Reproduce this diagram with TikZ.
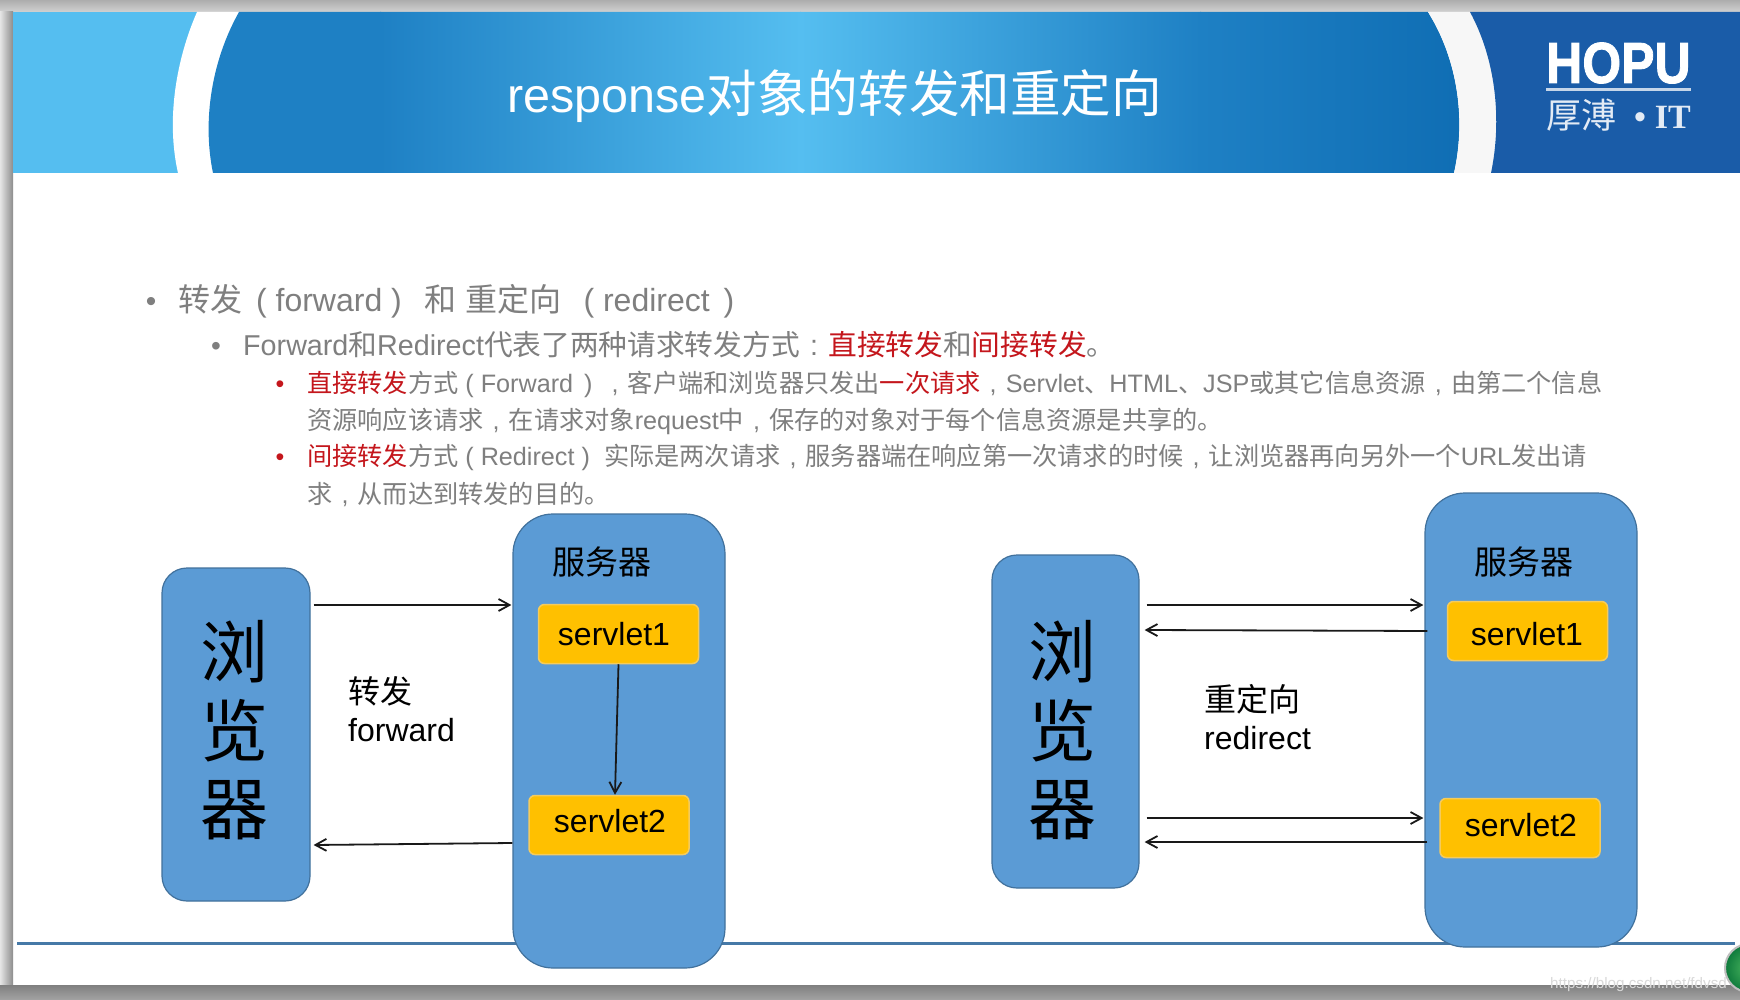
\documentclass[tikz,border=0pt]{standalone}
\usepackage{fontspec}
\setmainfont{Liberation Sans}
\newfontfamily\cjk{Noto Sans CJK SC}
\newfontfamily\logoserif{Liberation Serif}
\newfontfamily\hopufont[FakeBold=1.5]{Liberation Sans Bold}
\usetikzlibrary{calc,arrows.meta}
\newcommand{\zh}[1]{{\cjk #1}}
\newcommand{\cm}{\hbox to 1em{\hfil,\hfil}}
\newcommand{\fs}[1]{\fontsize{#1}{#1}\selectfont}
\definecolor{txgray}{HTML}{7F7F7F}
\definecolor{txred}{HTML}{C4161C}
\definecolor{boxblue}{HTML}{5B9BD5}
\definecolor{boxedge}{HTML}{41719C}
\definecolor{servfill}{HTML}{FFC000}
\definecolor{servedge}{HTML}{F5CB5C}
\definecolor{hdrl}{HTML}{55BEF0}
\definecolor{hdrd}{HTML}{0F6DB3}
\definecolor{hdrm}{HTML}{1E80C4}
\definecolor{hdrr}{HTML}{1A5CA8}
\definecolor{badgel}{HTML}{4CB860}
\definecolor{badged}{HTML}{0E7A3C}
\tikzset{
  rb/.style={draw=boxedge,line width=1.2pt,fill=boxblue,rounded corners=#1,inner sep=0pt,text=black},
  servlet/.style={draw=servedge,line width=1.5pt,fill=servfill,rounded corners=6pt,inner sep=0pt,minimum width=160pt,minimum height=59pt},
  label/.style={inner sep=0pt,anchor=base west,text=black},
  line/.style={inner sep=0pt,anchor=base west,text=txgray},
  bul/.style={inner sep=0pt,anchor=base},
  arr/.style={draw=black!90,line width=1.8pt,-{Straight Barb[length=11pt,width=12pt]}},
}
\begin{document}
\begin{tikzpicture}[x=1pt,y=-1pt]
\useasboundingbox (0,0) rectangle (1740,1000);
% frame
\fill[white] (0,0) rectangle (1740,1000);
\shade[top color=black!32,bottom color=black!18] (0,0) rectangle (1740,12);
\shade[left color=black!10,right color=black!45] (0,12) rectangle (13,985);
\shade[top color=black!50,bottom color=black!36] (0,985) rectangle (1740,1000);
% header
\fill[hdrl] (13,12) rectangle (200,173);
\fill[white] (197,12) .. controls (176,60) and (166,120) .. (178,173) -- (215,173) .. controls (202,120) and (212,60) .. (239,12) -- cycle;
\begin{scope}
\clip (239,12) .. controls (212,60) and (202,120) .. (213,173) -- (1454,173) .. controls (1466,120) and (1458,60) .. (1428,12) -- cycle;
\shade[left color=hdrm,right color=hdrm] (200,12) rectangle (381,173);
\shade[left color=hdrm,right color=hdrl] (380,12) rectangle (801,173);
\shade[left color=hdrl,right color=hdrm] (800,12) rectangle (1201,173);
\shade[left color=hdrm,right color=hdrd] (1200,12) rectangle (1470,173);
\end{scope}
\fill[white!97!black] (1428,12) .. controls (1458,60) and (1466,120) .. (1454,173) -- (1491,173) .. controls (1502,120) and (1496,60) .. (1470,12) -- cycle;
\fill[hdrr] (1470,12) .. controls (1496,60) and (1502,120) .. (1491,173) -- (1740,173) -- (1740,12) -- cycle;
\node[inner sep=0pt,anchor=base west,text=white] (title) at (507,113) {\fs{48.5}response\fs{50.6}\zh{对象的转发和重定向}};
\node[inner sep=0pt,anchor=base west,text=white] (hopu) at (1546,83) {\scalebox{1}[1.16]{\fs{50}\hopufont HOPU}};
\fill[white!75!hdrr] (1546,88) rectangle (1691,91);
\node[inner sep=0pt,anchor=base west,text=white!88!hdrr] (logocn) at (1546,129) {\fs{35}\zh{厚溥}};
\node[inner sep=0pt,anchor=base,text=white!88!hdrr] (logodot) at (1640,129) {\fs{34}•};
\node[inner sep=0pt,anchor=base east,text=white!88!hdrr] (logoit) at (1691,129) {\fs{34}\logoserif\bfseries IT};
% bottom rule
\draw[color=boxedge!80!boxblue,line width=3.5pt] (17,943.5) -- (1735,943.5);
% text
\node[bul,text=txgray] (b1) at (151,312) {\fs{30}•};
\node[line] (l1) at (178,312) {\fs{32}\zh{转发}\hspace{5pt} ( forward )\hspace{14pt} \zh{和}\hspace{0pt} \zh{重定向}\hspace{13pt} ( redirect\hspace{5pt} )};
\node[bul,text=txgray] (b2) at (216,355) {\fs{28}•};
\node[line] (l2) at (243,355) {\fs{28.7}Forward\zh{和}Redirect\zh{代表了两种请求转发方式}\hbox to 1em{\hfil:\hfil}\textcolor{txred}{\zh{直接转发}}\zh{和}\textcolor{txred}{\zh{间接转发}}\zh{。}};
\node[bul,text=txred] (b3) at (280,392.5) {\fs{25}•};
\node[line] (l3) at (307,392.5) {\fs{25.2}\textcolor{txred}{\zh{直接转发}}\zh{方式} ( Forward\hspace{4pt} )\hspace{3pt} \cm\zh{客户端和浏览器只发出}\textcolor{txred}{\zh{一次请求}}\cm Servlet\zh{、}HTML\zh{、}JSP\zh{或其它信息资源}\cm\zh{由第二个信息}};
\node[line] (l4) at (307,429) {\fs{25.2}\zh{资源响应该请求}\cm\zh{在请求对象}request\zh{中}\cm\zh{保存的对象对于每个信息资源是共享的。}};
\node[bul,text=txred] (b4) at (280,465.5) {\fs{25}•};
\node[line] (l5) at (307,465.5) {\fs{25.2}\textcolor{txred}{\zh{间接转发}}\zh{方式} ( Redirect )\hspace{7pt} \zh{实际是两次请求}\cm\zh{服务器端在响应第一次请求的时候}\cm\zh{让浏览器再向另外一个}URL\zh{发出请}};
\node[line] (l6) at (307,503.5) {\fs{25.2}\zh{求}\cm\zh{从而达到转发的目的。}};
% left diagram
\node[rb=25pt,minimum width=148pt,minimum height=333pt] (lb) at (236,734.5) {};
\node[rb=40pt,minimum width=212pt,minimum height=454pt] (ls) at (619,741) {};
\node[inner sep=0pt] (lb1) at (234.5,652) {\fs{68}\zh{浏}};
\node[inner sep=0pt] (lb2) at (234.5,731) {\fs{68}\zh{览}};
\node[inner sep=0pt] (lb3) at (234.5,810) {\fs{68}\zh{器}};
\node[inner sep=0pt] (lst) at (602,562) {\fs{33}\zh{服务器}};
\node[servlet] (ls1) at (618.5,634) {};
\node[inner sep=0pt,anchor=base] (ls1t) at (614,645) {\fs{32}servlet1};
\node[servlet] (ls2) at (609,825) {};
\node[inner sep=0pt,anchor=base] (ls2t) at (610,832) {\fs{32}servlet2};
\node[label] (ll1) at (348,703) {\fs{32}\zh{转发}};
\node[label] (ll2) at (348,741) {\fs{32}forward};
\draw[arr] ([xshift=3pt,yshift=129.5pt]lb.east) -- ([xshift=-1pt,yshift=136pt]ls.west);
\draw[arr] ([yshift=-102pt]ls.west) -- ([xshift=3pt,yshift=-110.5pt]lb.east);
\draw[arr] (ls1.south) -- ([xshift=6pt]ls2.north);
% right diagram
\node[rb=25pt,minimum width=147pt,minimum height=333pt] (rb) at (1065.5,721.5) {};
\node[rb=40pt,minimum width=212pt,minimum height=454pt] (rs) at (1531,720) {};
\node[inner sep=0pt] (rb1) at (1062,652) {\fs{68}\zh{浏}};
\node[inner sep=0pt] (rb2) at (1062,731) {\fs{68}\zh{览}};
\node[inner sep=0pt] (rb3) at (1062,810) {\fs{68}\zh{器}};
\node[inner sep=0pt] (rst) at (1524,562) {\fs{33}\zh{服务器}};
\node[servlet] (rs1) at (1527.5,631) {};
\node[inner sep=0pt,anchor=base] (rs1t) at (1527,645) {\fs{32}servlet1};
\node[servlet] (rs2) at (1520,828) {};
\node[inner sep=0pt,anchor=base] (rs2t) at (1521,836) {\fs{32}servlet2};
\node[label] (rl1) at (1204,711) {\fs{32}\zh{重定向}};
\node[label] (rl2) at (1204,749) {\fs{32}redirect};
\draw[arr] ([xshift=7pt,yshift=116.5pt]rb.east) -- ([xshift=-1pt,yshift=115pt]rs.west);
\draw[arr] ([xshift=3pt,yshift=89pt]rs.west) -- ([xshift=5pt,yshift=91.5pt]rb.east);
\draw[arr] ([xshift=7pt,yshift=-96.5pt]rb.east) -- ([xshift=-1pt,yshift=-98pt]rs.west);
\draw[arr] ([xshift=3pt,yshift=-122pt]rs.west) -- ([xshift=5pt,yshift=-120.5pt]rb.east);
% corner
\node[inner sep=0pt,anchor=base west,text=white!85!black] (wm) at (1550,988) {\fs{15.2}https://blog.csdn.net/fdvsd};
\node[circle,minimum size=48pt,inner sep=0pt,draw=black!25,line width=2pt,inner color=badgel,outer color=badged] (badge) at (1749,968) {};
\end{tikzpicture}
\end{document}
